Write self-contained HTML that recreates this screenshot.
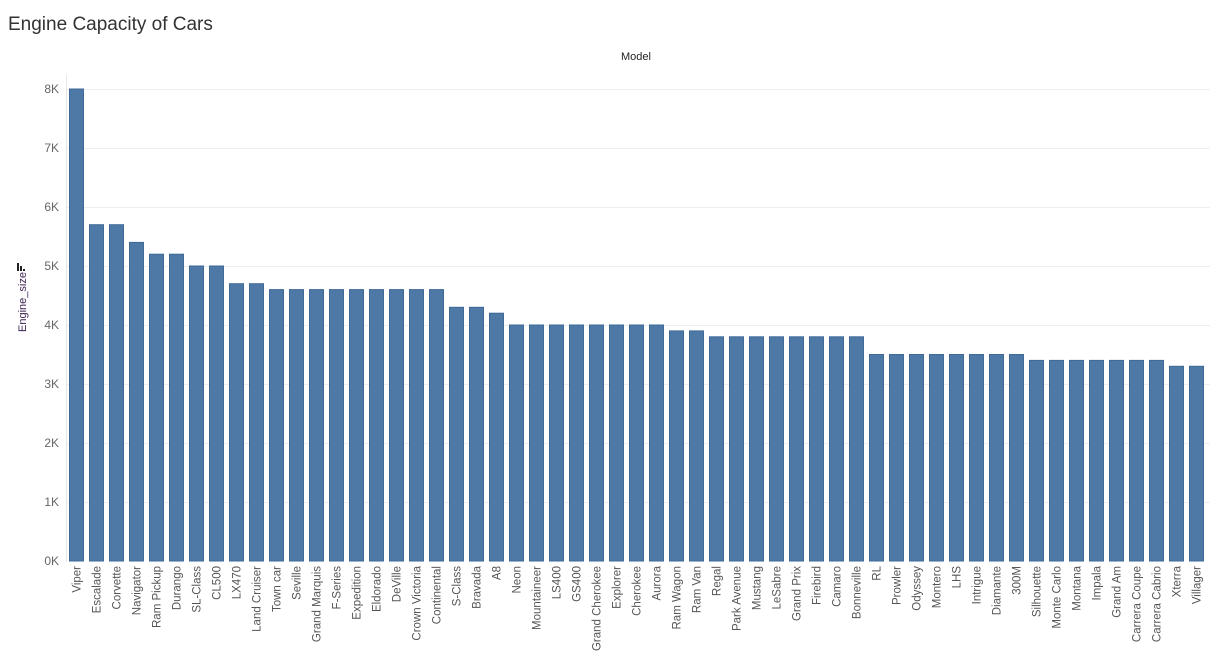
<!DOCTYPE html>
<html><head><meta charset="utf-8"><style>
body{margin:0;background:#fff;font-family:"Liberation Sans",sans-serif;}
svg text{font-family:"Liberation Sans",sans-serif;}
</style></head><body>
<svg id="chart" width="1215" height="663">
<text x="8" y="30" font-size="19" fill="#333">Engine Capacity of Cars</text>
<text x="636" y="60" font-size="11" fill="#222" text-anchor="middle">Model</text>
<text transform="translate(26,302) rotate(-90)" font-size="11" fill="#3a1f4f" text-anchor="middle">Engine_size</text>
<g transform="translate(17,263)" fill="#222"><rect x="0" y="0" width="2" height="8"/><rect x="3" y="3" width="2" height="5"/><rect x="6" y="6" width="2" height="2"/></g>
<line x1="66.5" y1="75" x2="66.5" y2="562" stroke="#e6e6e6"/>
<g id="grid"></g><g id="bars"></g><g id="ylabels"></g><g id="xlabels"></g>
</svg>
<script>
const categories=["Viper","Escalade","Corvette","Navigator","Ram Pickup","Durango","SL-Class","CL500","LX470","Land Cruiser","Town car","Seville","Grand Marquis","F-Series","Expedition","Eldorado","DeVille","Crown Victoria","Continental","S-Class","Bravada","A8","Neon","Mountaineer","LS400","GS400","Grand Cherokee","Explorer","Cherokee","Aurora","Ram Wagon","Ram Van","Regal","Park Avenue","Mustang","LeSabre","Grand Prix","Firebird","Camaro","Bonneville","RL","Prowler","Odyssey","Montero","LHS","Intrigue","Diamante","300M","Silhouette","Monte Carlo","Montana","Impala","Grand Am","Carrera Coupe","Carrera Cabrio","Xterra","Villager"];
const engineSize=[8000,5700,5700,5400,5200,5200,5000,5000,4700,4700,4600,4600,4600,4600,4600,4600,4600,4600,4600,4300,4300,4200,4000,4000,4000,4000,4000,4000,4000,4000,3900,3900,3800,3800,3800,3800,3800,3800,3800,3800,3500,3500,3500,3500,3500,3500,3500,3500,3400,3400,3400,3400,3400,3400,3400,3300,3300];
const yTicks=[0,1000,2000,3000,4000,5000,6000,7000,8000];
const yTickLabels=["0K","1K","2K","3K","4K","5K","6K","7K","8K"];
const NS="http://www.w3.org/2000/svg";
const y0=561,yTop=89,yMax=8000;
const y=v=>y0-(v/yMax)*(y0-yTop);
const pitch=20,x0=67;
const x=i=>x0+i*pitch;
const g=document.getElementById('grid'),b=document.getElementById('bars'),yl=document.getElementById('ylabels'),xl=document.getElementById('xlabels');
yTicks.forEach((t,i)=>{
 if(t>0){const l=document.createElementNS(NS,'line');
 l.setAttribute('x1',67);l.setAttribute('x2',1210);l.setAttribute('y1',y(t)+0.5);l.setAttribute('y2',y(t)+0.5);l.setAttribute('stroke','#eeeeee');
 
 
 g.appendChild(l);}
 const tx=document.createElementNS(NS,'text');
 tx.setAttribute('x',59);tx.setAttribute('y',y(t)+4);tx.setAttribute('text-anchor','end');tx.setAttribute('font-size','12');tx.setAttribute('fill','#666');
 tx.textContent=yTickLabels[i];
 
 
 yl.appendChild(tx);
});
categories.forEach((c,i)=>{
 const r=document.createElementNS(NS,'rect');
 r.setAttribute('x',x(i)+2.5);r.setAttribute('width',14);
 r.setAttribute('y',y(engineSize[i]));r.setAttribute('height',y0-y(engineSize[i]));
 r.setAttribute('fill','#4e79a7');r.setAttribute('stroke','#3f6a98');r.setAttribute('stroke-width','1');
 
 
 b.appendChild(r);
 const t=document.createElementNS(NS,'text');
 const cx=x(i)+9.5+4;
 t.setAttribute('transform','translate('+cx+',566) rotate(-90)');
 t.setAttribute('text-anchor','end');t.setAttribute('font-size','11.5');t.setAttribute('fill','#555');
 t.textContent=c;
 
 
 xl.appendChild(t);
});
</script>
</body></html>
